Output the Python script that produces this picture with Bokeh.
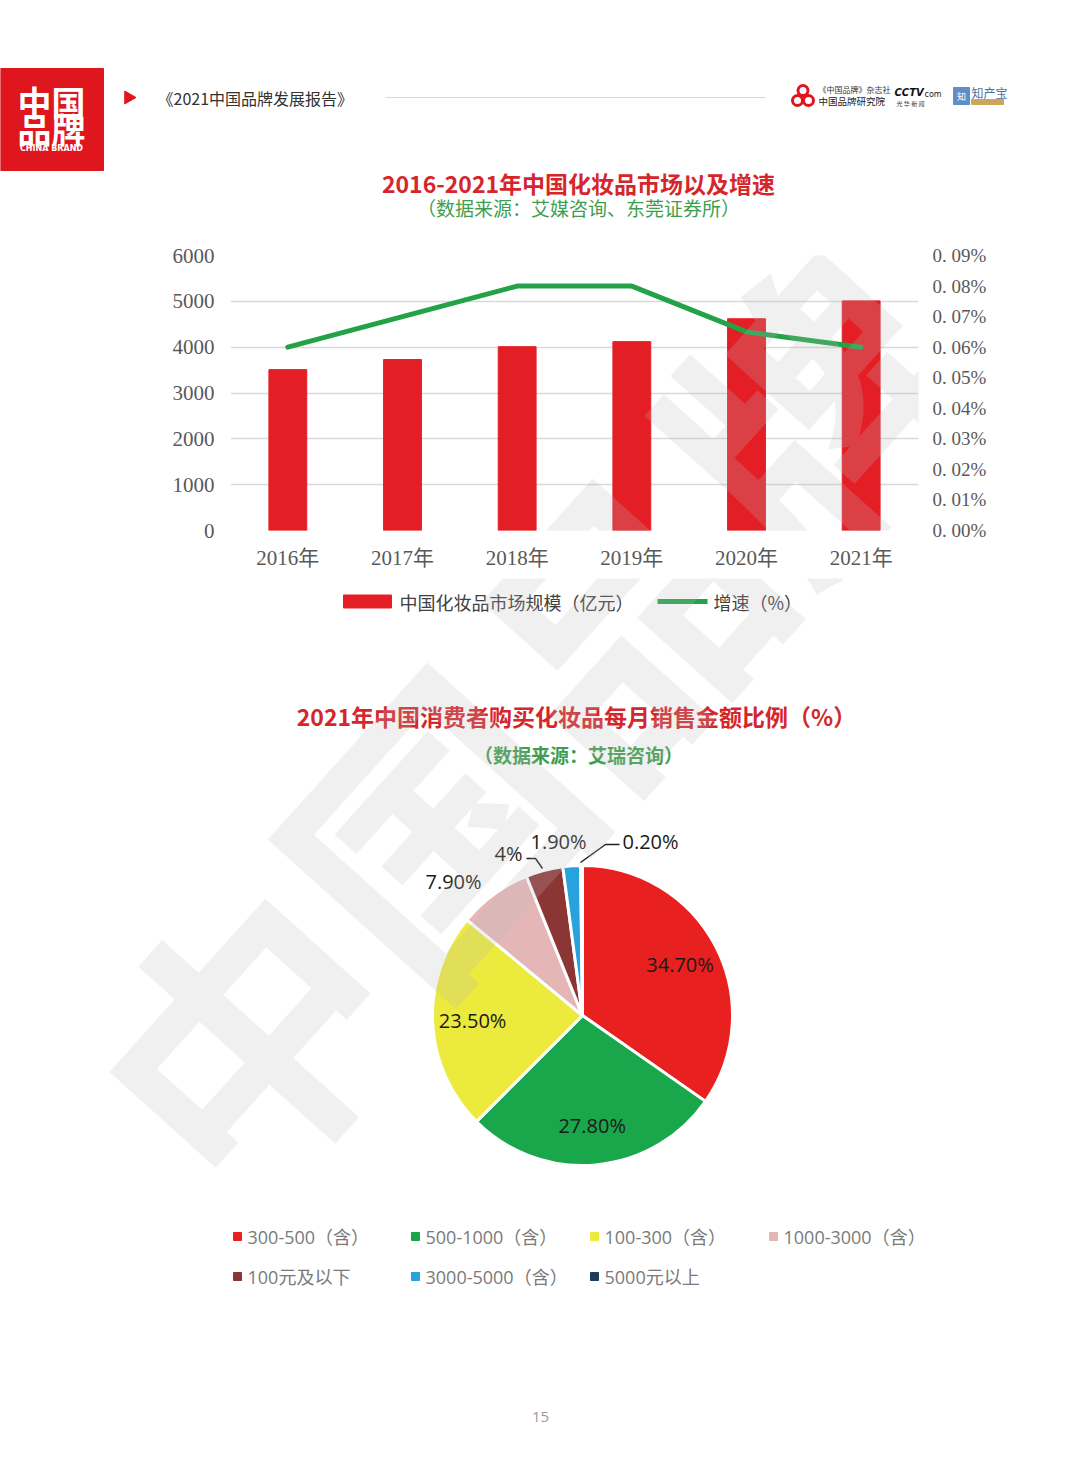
import math
from bokeh.plotting import figure
from bokeh.models import (Range1d, LinearAxis, Label, FactorRange,
                          CustomJSTickFormatter, FixedTicker, ColumnDataSource)
from bokeh.layouts import column
from bokeh.embed import file_html
from bokeh.resources import INLINE
from bokeh.core.properties import value

# ---------------- data ----------------
years = ["2016年", "2017年", "2018年", "2019年", "2020年", "2021年"]
market_size = [3510, 3730, 4010, 4120, 4620, 5010]          # 亿元
growth_pct = [0.06, 0.07, 0.08, 0.08, 0.065, 0.06]          # %
left_ticks = [0, 1000, 2000, 3000, 4000, 5000, 6000]
right_ticks = [0.0, 0.01, 0.02, 0.03, 0.04, 0.05, 0.06, 0.07, 0.08, 0.09]
bar_series_name = "中国化妆品市场规模（亿元）"
line_series_name = "增速（%）"

pie_categories = ["300-500（含）", "500-1000（含）", "100-300（含）", "1000-3000（含）",
                  "100元及以下", "3000-5000（含）", "5000元以上"]
pie_values = [34.7, 27.8, 23.5, 7.9, 4.0, 1.9, 0.2]
pie_labels = ["34.70%", "27.80%", "23.50%", "7.90%", "4%", "1.90%", "0.20%"]
pie_colors = ["#e8201f", "#1aa64b", "#ecea3c", "#e4b6b6", "#8c3535", "#28a2dc", "#1f3b5c"]

# ---------------- styles ----------------
RED = "#e31e24"
GREEN_LINE = "#23a248"
TITLE_RED = "#d5262b"
SUB_GREEN = "#3e9e4e"
CJK = "Noto Sans CJK SC"
SERIF = "Liberation Serif, Noto Sans CJK SC"
SANS = "Open Sans, Noto Sans CJK SC"
W = 1080
PAGE_H = 1466
WM_X, WM_Y = 520, 716   # watermark centre on the page (top-down)


def no_align(p):
    try:
        p.frame_align = False
    except Exception:
        pass


def add_watermark(p, frame_left, frame_bottom):
    p.add_layout(Label(x=WM_X - frame_left, y=frame_bottom - WM_Y,
                       x_units="screen", y_units="screen", text="中国品牌",
                       angle=48, angle_units="deg", text_align="center",
                       text_baseline="middle", text_font_size="282px",
                       text_font=CJK, text_font_style="bold",
                       text_color="#bcbcbc", text_alpha=0.22))


def blank(height):
    p = figure(width=W, height=height, frame_width=W, frame_height=height,
               x_range=Range1d(0, W), y_range=Range1d(0, height),
               output_backend="svg", toolbar_location=None, x_axis_type=None,
               y_axis_type=None, min_border=0)
    p.grid.visible = False
    p.outline_line_color = None
    p.background_fill_color = "white"
    p.border_fill_color = "white"
    no_align(p)
    return p


# ---------------- header ----------------
H1 = 240
ph = blank(H1)
Yh = lambda yt: H1 - yt
ph.quad(left=[0], right=[103], top=[Yh(68)], bottom=[Yh(170)], color="#e0161e")
ph.text(x=[51, 51], y=[Yh(101), Yh(128)], text=["中国", "品牌"], text_color="white",
        text_font=value(CJK), text_font_style="bold", text_font_size="34px",
        text_align="center", text_baseline="middle")
ph.text(x=[51], y=[Yh(148)], text=["CHINA BRAND"], text_color="white",
        text_font=value("DejaVu Sans"), text_font_style="bold", text_font_size="8px",
        text_align="center", text_baseline="middle")
ph.scatter(x=[128], y=[Yh(97)], marker="triangle", size=13, angle=-math.pi / 2,
           color="#e0161e")
ph.text(x=[157], y=[Yh(97)], text=["《2021中国品牌发展报告》"], text_color="#333333",
        text_font=value(CJK), text_font_size="16px", text_baseline="middle")
ph.line(x=[385, 765], y=[Yh(97), Yh(97)], color="#d8d8d8", line_width=1)
# right-hand logos
ph.scatter(x=[797, 808, 802.5], y=[Yh(100), Yh(100), Yh(90)], marker="circle", size=10,
           fill_color="white", line_color="#e0161e", line_width=3)
ph.text(x=[818], y=[Yh(89)], text=["《中国品牌》杂志社"], text_color="#333333",
        text_font=value(CJK), text_font_size="8px", text_baseline="middle")
ph.text(x=[818], y=[Yh(100)], text=["中国品牌研究院"], text_color="#222222",
        text_font=value(CJK), text_font_size="9.5px", text_baseline="middle")
ph.text(x=[894], y=[Yh(92)], text=["CCTV"], text_color="#111111",
        text_font=value("DejaVu Sans"), text_font_style="bold italic",
        text_font_size="10px", text_baseline="middle")
ph.text(x=[924], y=[Yh(94)], text=["com"], text_color="#222222",
        text_font=value("DejaVu Sans"), text_font_size="8px", text_baseline="middle")
ph.text(x=[896], y=[Yh(103)], text=["光 华 新 闻"], text_color="#333333",
        text_font=value(CJK), text_font_size="6px", text_baseline="middle")
ph.quad(left=[953], right=[969], top=[Yh(87)], bottom=[Yh(104)], color="#5f8fc5")
ph.text(x=[961], y=[Yh(95.5)], text=["知"], text_color="white", text_font=value(CJK),
        text_font_size="9px", text_align="center", text_baseline="middle")
ph.text(x=[971], y=[Yh(92)], text=["知产宝"], text_color="#4a6fa0", text_font=value(CJK),
        text_font_size="12px", text_baseline="middle")
ph.quad(left=[971], right=[1003], top=[Yh(99)], bottom=[Yh(104)], color="#c9a85a")
# chart 1 titles
ph.text(x=[578], y=[Yh(182)], text=["2016-2021年中国化妆品市场以及增速"],
        text_color=TITLE_RED, text_font=value(CJK), text_font_style="bold",
        text_font_size="23px", text_align="center", text_baseline="middle")
ph.text(x=[578], y=[Yh(207)], text=["（数据来源：艾媒咨询、东莞证券所）"],
        text_color=SUB_GREEN, text_font=value(CJK), text_font_size="19px",
        text_align="center", text_baseline="middle")

# ---------------- bar + line chart ----------------
# page y 240..578 ; frame y 255..530 ; frame x 230..918
pb = figure(width=W, height=338, frame_width=688, frame_height=275,
            x_range=FactorRange(*years, range_padding=0),
            y_range=Range1d(0, 6000), output_backend="svg", toolbar_location=None,
            min_border_left=230, min_border_right=162, min_border_top=15,
            min_border_bottom=48)
no_align(pb)
pb.outline_line_color = None
pb.background_fill_color = "white"
pb.border_fill_color = "white"
pb.extra_y_ranges = {"g": Range1d(0, 0.09)}

bars = pb.vbar(x=years, top=market_size, width=0.33, color=RED)
ln = pb.line(x=years, y=growth_pct, y_range_name="g", color=GREEN_LINE, line_width=5,
             line_join="round", line_cap="round")

pb.xgrid.visible = False
pb.ygrid.grid_line_color = "#d9d9d9"
pb.ygrid.grid_line_width = 1.5
pb.yaxis.ticker = FixedTicker(ticks=left_ticks)

ax_r = LinearAxis(y_range_name="g", ticker=FixedTicker(ticks=right_ticks),
                  formatter=CustomJSTickFormatter(
                      code="return tick.toFixed(2).replace('.', '. ') + '%';"))
pb.add_layout(ax_r, "right")

for ax in [pb.xaxis[0], pb.yaxis[0], ax_r]:
    ax.axis_line_color = None
    ax.major_tick_line_color = None
    ax.minor_tick_line_color = None
    ax.major_tick_in = 0
    ax.major_tick_out = 0
    ax.minor_tick_in = 0
    ax.minor_tick_out = 0
    ax.major_label_text_font = SERIF
    ax.major_label_text_font_size = "21px"
    ax.major_label_text_color = "#595959"
ax_r.major_label_text_font_size = "19px"
pb.xaxis[0].major_label_standoff = 15
pb.yaxis[0].major_label_standoff = 16
ax_r.major_label_standoff = 14
add_watermark(pb, 230, 530)

# ---------------- lower part: bar legend + pie chart ----------------
TOP3 = 578
H3 = PAGE_H - TOP3
pp = blank(H3)
Yp = lambda yt: PAGE_H - yt

# legend of the bar/line chart
LEG_Y = 601
pp.quad(left=[343], right=[391], top=[Yp(LEG_Y - 6.5)], bottom=[Yp(LEG_Y + 6.5)],
        color=RED)
pp.text(x=[399], y=[Yp(LEG_Y)], text=[bar_series_name], text_color="#404040",
        text_font=value(CJK), text_font_size="18px", text_baseline="middle")
pp.line(x=[657, 707], y=[Yp(LEG_Y), Yp(LEG_Y)], color=GREEN_LINE, line_width=5)
pp.text(x=[713], y=[Yp(LEG_Y)], text=[line_series_name], text_color="#404040",
        text_font=value(CJK), text_font_size="18px", text_baseline="middle")

pp.text(x=[576], y=[Yp(715)], text=["2021年中国消费者购买化妆品每月销售金额比例（%）"],
        text_color=TITLE_RED, text_font=value(CJK), text_font_style="bold",
        text_font_size="23px", text_align="center", text_baseline="middle")
pp.text(x=[578], y=[Yp(754)], text=["（数据来源：艾瑞咨询）"],
        text_color=SUB_GREEN, text_font=value(CJK), text_font_style="bold",
        text_font_size="19px", text_align="center", text_baseline="middle")

CX, CY, R = 582, Yp(1015), 150
total = sum(pie_values)
cum = [0.0]
for v in pie_values:
    cum.append(cum[-1] + v)
n = len(pie_values)
start = [math.pi / 2 - 2 * math.pi * cum[i + 1] / total for i in range(n)]
end = [math.pi / 2 - 2 * math.pi * cum[i] / total for i in range(n)]
pp.wedge(x=CX, y=CY, radius=R, start_angle="start", end_angle="end",
         fill_color="color", line_color="white", line_width=3,
         source=ColumnDataSource(dict(start=start, end=end, color=pie_colors)))

# inner labels (three big slices) placed on the slice bisector
lx, ly, lt = [], [], []
for i in range(3):
    mid = math.pi / 2 - 2 * math.pi * (cum[i] + cum[i + 1]) / 2 / total
    rr = 110
    lx.append(CX + rr * math.cos(mid))
    ly.append(CY + rr * math.sin(mid))
    lt.append(pie_labels[i])
pp.text(x=lx, y=ly, text=lt, text_color="#1a1a1a", text_font=value("Open Sans"),
        text_font_size="20px", text_align="center", text_baseline="middle")

# outer labels for the small slices (label offsets from the pie centre)
outer_offsets = [(-129, 134), (-74, 162), (-24, 174), (68, 174)]
ox = [CX + dx for dx, dy in outer_offsets]
oy = [CY + dy for dx, dy in outer_offsets]
pp.text(x=ox, y=oy, text=pie_labels[3:], text_color="#1a1a1a",
        text_font=value("Open Sans"), text_font_size="20px", text_align="center",
        text_baseline="middle")
# leader lines
pp.line(x=[CX - 56, CX - 47, CX - 40], y=[CY + 157, CY + 157, CY + 147],
        color="#222222", line_width=1.5)
pp.line(x=[CX + 37, CX + 23, CX - 2], y=[CY + 171, CY + 171, CY + 153],
        color="#222222", line_width=1.5)

# legend of the pie
leg_x = [237, 415, 594, 773, 237, 415, 594]
leg_y = [1236, 1236, 1236, 1236, 1276, 1276, 1276]
pp.scatter(x=leg_x, y=[Yp(v) for v in leg_y], marker="square", size=8,
           color=pie_colors)
pp.text(x=[v + 10 for v in leg_x], y=[Yp(v) for v in leg_y], text=pie_categories,
        text_color="#7a7a7a", text_font=value(SANS), text_font_size="18px",
        text_baseline="middle")

pp.text(x=[540], y=[Yp(1416)], text=["15"], text_color="#9a9a9a",
        text_font=value("Open Sans"), text_font_size="15px", text_align="center",
        text_baseline="middle")
add_watermark(pp, 0, PAGE_H)

page = column(ph, pb, pp, spacing=0)
open("out.html", "w").write(file_html(page, INLINE))
